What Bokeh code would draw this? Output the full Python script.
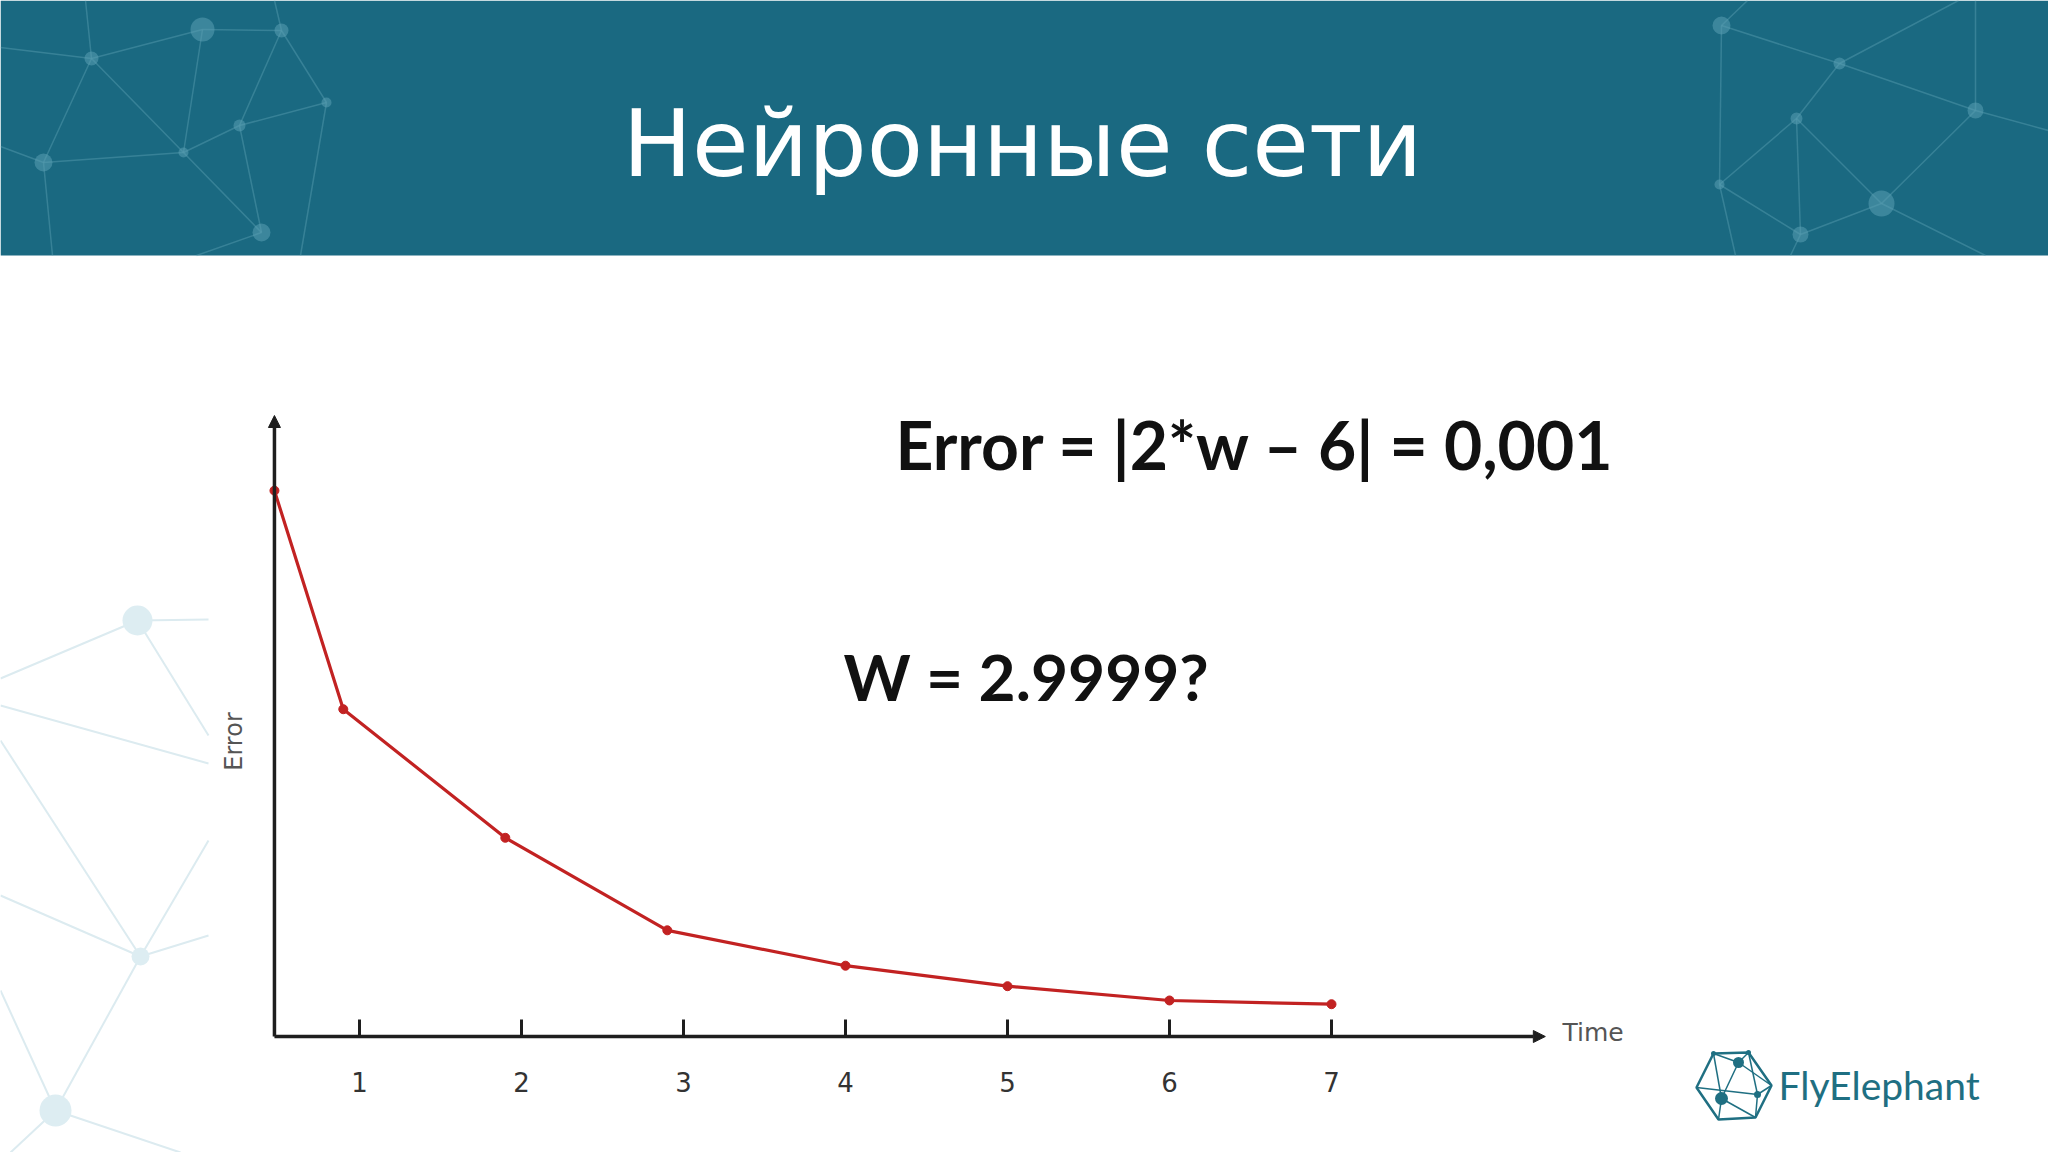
from bokeh.plotting import figure
from bokeh.models import Range1d, FixedTicker, Arrow, NormalHead
from bokeh.core.properties import value
from bokeh.embed import file_html
from bokeh.resources import INLINE

# ---------------- data ----------------
time = [0.475, 0.9, 1.9, 2.9, 4.0, 5.0, 6.0, 7.0]
error = [8.79, 5.27, 3.20, 1.71, 1.14, 0.81, 0.58, 0.52]
tick_values = [1, 2, 3, 4, 5, 6, 7]
tick_labels = ["1", "2", "3", "4", "5", "6", "7"]
axis_origin_t = 0.475
axis_end_t = 8.32
axis_top_e = 10.0
title_text = "Нейронные сети"
formula_text = "Error = |2*w – 6| = 0,001"
w_text = "W = 2.9999?"
x_label = "Time"
y_label = "Error"
brand_text = "FlyElephant"

# ---------------- layout constants (image pixels) ----------------
W, H = 2048, 1152
PX0, PXU = 197.0, 162.0      # image x of t=0, px per time unit
PY0, PYU = 1036.0, 62.1      # image y of e=0, px per error unit

TEAL = "#1a6981"
RED = "#c22222"
AX = "#1e1e1e"

p = figure(width=W, height=H,
           x_range=Range1d((0 - PX0) / PXU, (W - PX0) / PXU),
           y_range=Range1d((PY0 - H) / PYU, PY0 / PYU),
           output_backend="svg", toolbar_location=None, min_border=0,
           background_fill_color="white", border_fill_color="white",
           outline_line_color=None)
p.grid.visible = False
p.extra_x_ranges = {"px": Range1d(0, W)}
p.extra_y_ranges = {"py": Range1d(H, 0)}

# ---------------- background decorations ----------------
p.quad(left=[0], right=[2048], top=[0], bottom=[255], x_range_name="px", y_range_name="py",
       fill_color=TEAL, line_color=None)

ban_nodes_x = [202, 281, 91, 326, 239, 43, 183, 261, 1721, 1839, 1796, 1975, 1881, 1800, 1719]
ban_nodes_y = [29, 30, 58, 102, 125, 162, 152, 232, 25, 63, 118, 110, 203, 234, 184]
ban_nodes_s = [24, 14, 14, 10, 12, 18, 10, 18, 18, 12, 12, 16, 26, 16, 10]
ban_edges = [(0, 47, 91, 58), (91, 58, 202, 29), (202, 29, 281, 30), (202, 29, 183, 152),
             (281, 30, 239, 125), (281, 30, 326, 102), (91, 58, 183, 152), (91, 58, 43, 162),
             (326, 102, 239, 125), (239, 125, 183, 152), (43, 162, 183, 152), (183, 152, 261, 232),
             (43, 162, 52, 255), (261, 232, 196, 255), (85, 0, 91, 58), (274, 0, 281, 30),
             (326, 102, 300, 255), (0, 146, 43, 162), (239, 125, 261, 232),
             (1747, 0, 1721, 25), (1721, 25, 1839, 63), (1839, 63, 1975, 110), (1839, 63, 1796, 118),
             (1721, 25, 1719, 184), (1796, 118, 1881, 203), (1796, 118, 1800, 234),
             (1975, 110, 1881, 203), (1881, 203, 1800, 234), (1719, 184, 1800, 234),
             (1839, 63, 1958, 0), (1881, 203, 1985, 255), (1975, 110, 2048, 130),
             (1975, 0, 1975, 110), (1800, 234, 1790, 255), (1719, 184, 1735, 255),
             (1719, 184, 1796, 118)]
p.segment(x0=[e[0] for e in ban_edges], y0=[e[1] for e in ban_edges],
          x1=[e[2] for e in ban_edges], y1=[e[3] for e in ban_edges],
          x_range_name="px", y_range_name="py", line_color="#5b9fb2", line_alpha=0.45, line_width=1.5)
p.scatter(ban_nodes_x, ban_nodes_y, size=ban_nodes_s, x_range_name="px", y_range_name="py",
          fill_color="#5a9fb3", fill_alpha=0.55, line_color=None)

bl_nodes_x = [137, 140, 55]
bl_nodes_y = [620, 956, 1110]
bl_nodes_s = [30, 18, 32]
bl_edges = [(0, 678, 137, 620), (137, 620, 208, 619), (137, 620, 208, 735), (0, 705, 208, 763),
            (0, 740, 140, 956), (140, 956, 208, 840), (0, 895, 140, 956), (140, 956, 208, 935),
            (140, 956, 55, 1110), (0, 990, 55, 1110), (55, 1110, 180, 1152), (55, 1110, 10, 1152)]
p.segment(x0=[e[0] for e in bl_edges], y0=[e[1] for e in bl_edges],
          x1=[e[2] for e in bl_edges], y1=[e[3] for e in bl_edges],
          x_range_name="px", y_range_name="py", line_color="#dcebf0", line_width=2)
p.scatter(bl_nodes_x, bl_nodes_y, size=bl_nodes_s, x_range_name="px", y_range_name="py",
          fill_color="#ddedf2", line_color=None)

# ---------------- title & texts ----------------
p.text(x=[1022], y=[144], text=[title_text], x_range_name="px", y_range_name="py",
       text_font=value("DejaVu Sans"), text_font_size="92px", text_color="white",
       text_align="center", text_baseline="middle")
p.text(x=[895], y=[444], text=[formula_text], x_range_name="px", y_range_name="py",
       text_font=value("Lato"), text_font_style="bold", text_font_size="66px", text_color="#111111",
       text_align="left", text_baseline="middle")
p.text(x=[843], y=[676], text=[w_text], x_range_name="px", y_range_name="py",
       text_font=value("Lato"), text_font_style="bold", text_font_size="64px", text_color="#111111",
       text_align="left", text_baseline="middle")
p.text(x=[1562], y=[1032], text=[x_label], x_range_name="px", y_range_name="py",
       text_font=value("DejaVu Sans"), text_font_size="25px", text_color="#555555",
       text_align="left", text_baseline="middle")

# ---------------- chart ----------------
xa = p.xaxis[0]
xa.fixed_location = 0
xa.bounds = (axis_origin_t, axis_end_t)
xa.ticker = FixedTicker(ticks=tick_values)
xa.major_label_overrides = {v: l for v, l in zip(tick_values, tick_labels)}
xa.axis_line_color = None
xa.major_tick_in = 17
xa.major_tick_out = 0
xa.major_tick_line_width = 3
xa.major_tick_line_color = AX
xa.minor_tick_line_color = None
xa.major_label_standoff = 35
xa.major_label_text_font = "DejaVu Sans"
xa.major_label_text_font_size = "26px"
xa.major_label_text_color = "#333333"

ya = p.yaxis[0]
ya.fixed_location = axis_origin_t
ya.bounds = (0, 9.5)
ya.ticker = FixedTicker(ticks=[])
ya.axis_line_color = None
ya.major_tick_line_color = None
ya.minor_tick_line_color = None
ya.axis_label = y_label
ya.axis_label_standoff = 27
ya.axis_label_text_font = "DejaVu Sans"
ya.axis_label_text_font_size = "24px"
ya.axis_label_text_font_style = "normal"
ya.axis_label_text_color = "#555555"

p.add_layout(Arrow(end=NormalHead(size=12, fill_color=AX, line_color=AX),
                   x_start=axis_origin_t, y_start=0, x_end=axis_end_t, y_end=0,
                   line_color=AX, line_width=3.5))
p.add_layout(Arrow(end=NormalHead(size=12, fill_color=AX, line_color=AX),
                   x_start=axis_origin_t, y_start=0, x_end=axis_origin_t, y_end=axis_top_e,
                   line_color=AX, line_width=3.5))

p.line(time, error, line_color=RED, line_width=3.2)
p.scatter(time, error, size=9, fill_color=RED, line_color=RED)

# ---------------- logo ----------------
LOGO = "#1f6f82"
hex_x = [1713, 1748, 1771, 1755, 1718, 1696]
hex_y = [1053, 1052, 1085, 1117, 1119, 1087]
p.patch(hex_x, hex_y, x_range_name="px", y_range_name="py", fill_color=None,
        line_color=LOGO, line_width=2.5)
logo_edges = [(1713, 1053, 1738, 1062), (1738, 1062, 1748, 1052), (1738, 1062, 1721, 1098),
              (1696, 1087, 1757, 1094), (1721, 1098, 1718, 1119), (1721, 1098, 1755, 1117),
              (1757, 1094, 1771, 1085), (1757, 1094, 1755, 1117), (1713, 1053, 1721, 1098),
              (1738, 1062, 1771, 1085), (1748, 1052, 1757, 1094)]
p.segment(x0=[e[0] for e in logo_edges], y0=[e[1] for e in logo_edges],
          x1=[e[2] for e in logo_edges], y1=[e[3] for e in logo_edges],
          x_range_name="px", y_range_name="py", line_color=LOGO, line_width=1.5)
p.scatter([1738, 1721, 1757, 1748, 1713], [1062, 1098, 1094, 1052, 1053], size=[11, 13, 7, 5, 5],
          x_range_name="px", y_range_name="py", fill_color=LOGO, line_color=None)
p.text(x=[1778], y=[1084], text=[brand_text], x_range_name="px", y_range_name="py",
       text_font=value("Lato"), text_font_size="39px", text_color=LOGO,
       text_align="left", text_baseline="middle")

open("out.html", "w").write(file_html(p, INLINE))
